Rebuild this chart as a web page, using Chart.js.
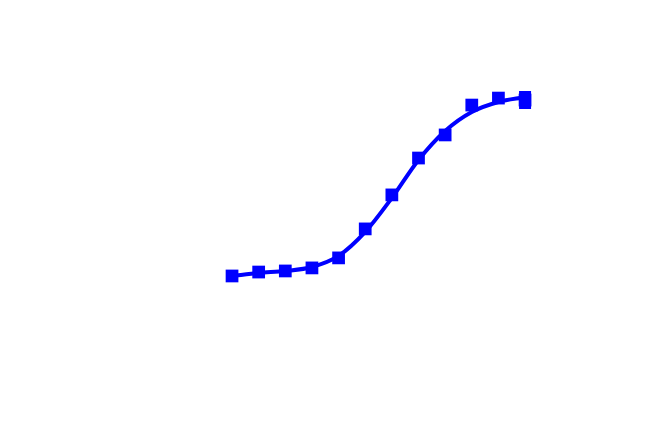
<!DOCTYPE html>
<html>
<head>
<meta charset="utf-8">
<script src="https://cdn.jsdelivr.net/npm/chart.js@4/dist/chart.umd.min.js"></script>
<style>
  html, body { margin: 0; padding: 0; background: #fff; overflow: hidden; }
  canvas { display: block; }
</style>
</head>
<body>
<canvas id="chart" width="650" height="434"></canvas>
<script>
// measured responses (% of max)
const doses = [1, 2, 3, 4, 5, 6, 7, 8, 9, 10, 11, 12];
const response = [0, 2.2, 2.8, 4.5, 10.1, 26.3, 45.3, 65.9, 78.8, 95.5, 99.4, 98.3];
const errors = [0, 0, 0, 0, 0, 0, 0, 0, 0, 0, 0, 4.2];
// fitted curve, read at the same doses
const fitted = [0, 1.7, 2.8, 5, 11.2, 24.6, 43.6, 64.8, 81, 91.6, 97.2, 99.9];

const blue = "#0000ff";

const errorBars = {
  id: "errorBars",
  afterDatasetsDraw(chart) {
    const { ctx, scales } = chart;
    ctx.save();
    ctx.strokeStyle = blue;
    ctx.lineWidth = 3;
    doses.forEach((d, i) => {
      if (!errors[i]) return;
      const x = scales.x.getPixelForValue(d);
      const top = scales.y.getPixelForValue(response[i] + errors[i]);
      const bot = scales.y.getPixelForValue(response[i] - errors[i]);
      ctx.beginPath();
      ctx.moveTo(x, top); ctx.lineTo(x, bot);
      ctx.moveTo(x - 6, top); ctx.lineTo(x + 6, top);
      ctx.moveTo(x - 6, bot); ctx.lineTo(x + 6, bot);
      ctx.stroke();
    });
    ctx.restore();
  }
};

new Chart(document.getElementById("chart"), {
  type: "scatter",
  data: {
    datasets: [
      {
        label: "Fit",
        data: doses.map((d, i) => ({ x: d, y: fitted[i] })),
        showLine: true,
        borderColor: blue,
        borderWidth: 4,
        pointRadius: 0,
        cubicInterpolationMode: "monotone",
        fill: false
      },
      {
        label: "Response",
        data: doses.map((d, i) => ({ x: d, y: response[i] })),
        showLine: false,
        pointStyle: "rect",
        pointRadius: 9,
        backgroundColor: blue,
        borderColor: blue,
        borderWidth: 0
      }
    ]
  },
  options: {
    responsive: false,
    animation: false,
    layout: { padding: 0, autoPadding: false },
    plugins: { legend: { display: false }, tooltip: { enabled: false } },
    scales: {
      x: { type: "linear", display: false, min: -7.71, max: 16.69 },
      y: { type: "linear", display: false, min: -88.3, max: 154.2 }
    }
  },
  plugins: [errorBars]
});
</script>
</body>
</html>
